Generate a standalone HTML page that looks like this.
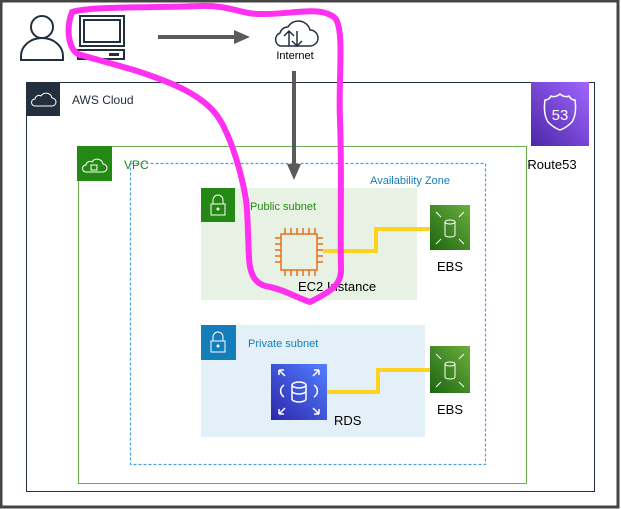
<!DOCTYPE html>
<html><head><meta charset="utf-8"><style>
html,body{margin:0;padding:0;background:#fff}
svg{display:block;font-family:"Liberation Sans",Arial,sans-serif}
</style></head><body>
<svg width="621" height="509" viewBox="0 0 621 509" xmlns="http://www.w3.org/2000/svg">
<rect x="0" y="0" width="621" height="509" fill="#fff"/>
<rect x="1" y="1" width="617" height="506" fill="none" stroke="#444" stroke-width="3"/>
<!-- AWS Cloud -->
<rect x="26.5" y="82.5" width="568" height="409" fill="none" stroke="#232f3e" stroke-width="1"/>
<rect x="26" y="82" width="34" height="34" fill="#232f3e"/>
<path d="M35 106 h17 a4 4 0 0 0 0-8 a6 6 0 0 0-11-2 a4 4 0 0 0-6 3 a3.5 3.5 0 0 0 0 7z" fill="none" stroke="#fff" stroke-width="1"/>
<text x="72" y="104" font-size="12" fill="#232f3e">AWS Cloud</text>
<!-- Route53 -->
<defs>
<linearGradient id="r53" x1="0" y1="1" x2="1" y2="0"><stop offset="0" stop-color="#4d27a8"/><stop offset="1" stop-color="#a166ff"/></linearGradient>
<linearGradient id="ebs" x1="0" y1="1" x2="1" y2="0"><stop offset="0" stop-color="#1b660f"/><stop offset="1" stop-color="#6cae3e"/></linearGradient>
<linearGradient id="rds" x1="0" y1="1" x2="1" y2="0"><stop offset="0" stop-color="#2e27ad"/><stop offset="1" stop-color="#527fff"/></linearGradient>
</defs>
<rect x="531" y="82" width="58" height="64" fill="url(#r53)"/>
<path d="M545 100 q4 0 6-4 q4 2 9 -2 q5 4 9 2 q2 4 6 4 q2 14-3 22 q-6 6-12 8 q-6-2-12-8 q-5-8-3-22z" fill="none" stroke="#fff" stroke-width="1.5"/>
<text x="560" y="120" font-size="15" fill="#fff" text-anchor="middle">53</text>
<text x="552" y="169" font-size="13" fill="#000" text-anchor="middle">Route53</text>
<!-- VPC -->
<rect x="78.5" y="146.5" width="448" height="337" fill="none" stroke="#6aad50" stroke-width="1"/>
<rect x="77" y="146" width="35" height="35" fill="#248814"/>
<path d="M86 172 h17 a4 4 0 0 0 0-8 a6 6 0 0 0-11-2 a4 4 0 0 0-6 3 a3.5 3.5 0 0 0 0 7z" fill="none" stroke="#fff" stroke-width="1"/>
<rect x="91" y="165" width="6" height="5" fill="none" stroke="#fff" stroke-width="1"/>
<text x="124" y="169" font-size="12" fill="#248814">VPC</text>
<!-- AZ -->
<rect x="130.5" y="163.5" width="355" height="301" fill="none" stroke="#4aa3df" stroke-width="1.2" stroke-dasharray="3,2"/>
<text x="450" y="184" font-size="11" fill="#147eba" text-anchor="end">Availability Zone</text>
<!-- Public subnet -->
<rect x="201" y="188" width="216" height="112" fill="#e7f1e4"/>
<rect x="201" y="188" width="34" height="34" fill="#248814"/>
<rect x="211" y="204" width="14" height="11" fill="none" stroke="#fff" stroke-width="1"/>
<path d="M213 204 v-4 a5 5 0 0 1 10 0 v4" fill="none" stroke="#fff" stroke-width="1"/>
<circle cx="218" cy="209" r="1.5" fill="#fff"/>
<text x="250" y="210" font-size="11" fill="#248814">Public subnet</text>
<!-- EC2 -->
<g stroke="#e7711b" stroke-width="1.5" fill="none">
<rect x="281" y="234" width="36" height="36"/>
<path d="M285 228v6M291 228v6M297 228v6M303 228v6M309 228v6M315 228v6M285 270v6M291 270v6M297 270v6M303 270v6M309 270v6M315 270v6M275 238h6M275 244h6M275 250h6M275 256h6M275 262h6M317 238h6M317 244h6M317 250h6M317 256h6M317 262h6"/>
</g>
<text x="298" y="291" font-size="13" fill="#000">EC2 Instance</text>
<polyline points="323,251 376,251 376,229 430,229" fill="none" stroke="#ffd21f" stroke-width="4"/>
<rect x="430" y="205" width="40" height="45" fill="url(#ebs)"/>
<g stroke="#fff" stroke-width="1" fill="none"><ellipse cx="450" cy="222" rx="5" ry="2"/><path d="M445 222v13a5 2 0 0 0 10 0v-13M436 212l5 5M464 212l-5 5M436 244l5-5M464 244l-5-5"/></g>
<text x="437" y="271" font-size="13" fill="#000">EBS</text>
<!-- Private subnet -->
<rect x="201" y="325" width="224" height="112" fill="#e3f0f7"/>
<rect x="201" y="325" width="35" height="35" fill="#147eba"/>
<rect x="211" y="341" width="14" height="11" fill="none" stroke="#fff" stroke-width="1"/>
<path d="M213 341 v-4 a5 5 0 0 1 10 0 v4" fill="none" stroke="#fff" stroke-width="1"/>
<circle cx="218" cy="346" r="1.5" fill="#fff"/>
<text x="248" y="347" font-size="11" fill="#147eba">Private subnet</text>
<rect x="271" y="364" width="56" height="56" fill="url(#rds)"/>
<g stroke="#fff" stroke-width="1.5" fill="none"><ellipse cx="299" cy="385" rx="7" ry="3"/><path d="M292 385v14a7 3 0 0 0 14 0v-14M292 391a7 3 0 0 0 14 0M284 385a10 8 0 0 0 0 12M314 385a10 8 0 0 1 0 12M279 370l6 6M279 370v5M279 370h5M319 370l-6 6M319 370v5M319 370h-5M279 414l6-6M279 414v-5M279 414h5M319 414l-6-6M319 414v-5M319 414h-5"/></g>
<text x="334" y="425" font-size="13" fill="#000">RDS</text>
<polyline points="327,392 378,392 378,370 430,370" fill="none" stroke="#ffd21f" stroke-width="4"/>
<rect x="430" y="346" width="40" height="47" fill="url(#ebs)"/>
<g stroke="#fff" stroke-width="1" fill="none"><ellipse cx="450" cy="364" rx="5" ry="2"/><path d="M445 364v13a5 2 0 0 0 10 0v-13M436 354l5 5M464 354l-5 5M436 387l5-5M464 387l-5-5"/></g>
<text x="437" y="414" font-size="13" fill="#000">EBS</text>
<!-- Person -->
<g stroke="#232f3e" stroke-width="2" fill="none">
<circle cx="42" cy="27" r="11"/>
<path d="M21 60 v-4 a21 18 0 0 1 42 0 v4z"/>
<rect x="80" y="16" width="44" height="30"/>
<rect x="84" y="20" width="36" height="22"/>
<rect x="78" y="50" width="46" height="9"/>
</g>
<rect x="109" y="53" width="10" height="3" fill="#232f3e"/>
<!-- arrows -->
<line x1="158" y1="37" x2="236" y2="37" stroke="#5a5a5a" stroke-width="4"/>
<polygon points="234,30 250,37 234,44" fill="#5a5a5a"/>
<g stroke="#232f3e" stroke-width="1.5" fill="none">
<path d="M280 46 h30 a8 8 0 0 0 0-16 a12 12 0 0 0-22-3 a8 8 0 0 0-8 6 a7 7 0 0 0 0 13z"/>
<path d="M289 46v-15M284 36l5-5 5 5M297 31v15M292 41l5 5 5-5"/>
</g>
<text x="295" y="59" font-size="11" fill="#000" text-anchor="middle">Internet</text>
<line x1="294" y1="71" x2="294" y2="166" stroke="#5a5a5a" stroke-width="4"/>
<polygon points="287,164 294,180 301,164" fill="#5a5a5a"/>
<!-- magenta freehand -->
<path d="M72 12 C90 6 150 8 200 6 C230 5 240 14 260 14 C290 15 320 5 335 18 C345 30 338 80 340 120 C342 170 340 230 341 268 C342 285 330 292 310 302 C295 297 285 290 270 287 C255 285 250 275 249 258 C248 240 248 215 246 200 C242 175 232 140 220 120 C205 95 170 82 140 72 C115 64 90 58 78 54 C68 48 66 28 72 12 Z" fill="none" stroke="#ff30f0" stroke-width="6" stroke-linejoin="round"/>
</svg>
</body></html>
